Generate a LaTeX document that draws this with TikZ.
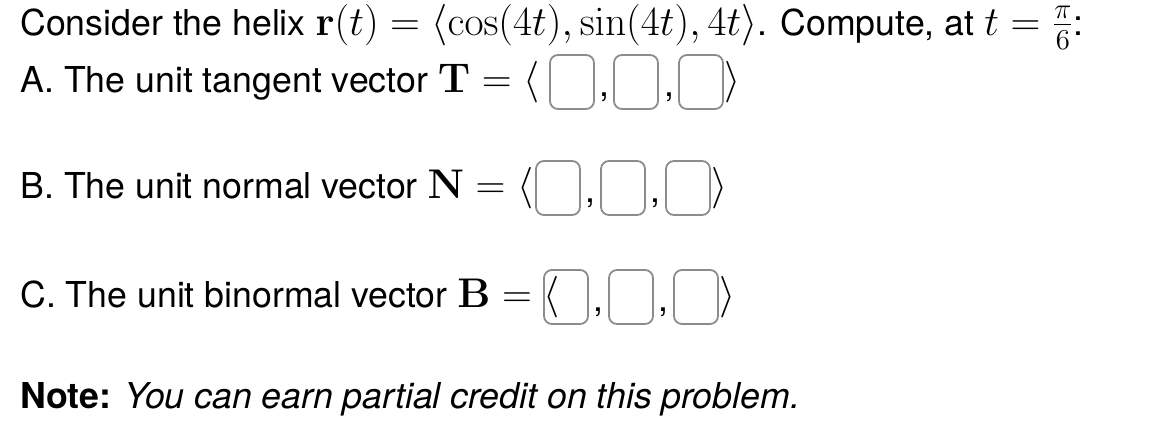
\documentclass[tikz,border=0pt]{standalone}
\usepackage{amsmath}
\usepackage[no-math]{fontspec}
\setmainfont[Scale=0.87]{TeX Gyre Heros}
\begin{document}
\begin{tikzpicture}[x=0.5pt,y=-0.5pt,
  txt/.style={anchor=base west,inner sep=0pt,font=\fontsize{20.5}{24}\selectfont},
  ans/.style={draw=black!45,line width=0.9pt,rounded corners=4pt,minimum width=22pt,minimum height=27pt,inner sep=0pt}]
\useasboundingbox (0,0) rectangle (1170,424);
\node[txt] (l1) at (20,35) {Consider the helix $\mathbf{r}(t)=\langle\cos(4t),\sin(4t),4t\rangle$. Compute, at $t=\frac{\pi}{6}$:};
\node[txt] (la) at (20,92) {A. The unit tangent vector $\mathbf{T}=\langle$};
\node[ans] (a1) at (572,82) {}; \node[txt] (ac1) at (599,96) {,};
\node[ans] (a2) at (636,82) {}; \node[txt] (ac2) at (664,96) {,};
\node[ans] (a3) at (701,82) {}; \node[txt] (ar) at (724,92) {$\rangle$};
\node[txt] (lb) at (20,198) {B. The unit normal vector $\mathbf{N}=\langle$};
\node[ans] (b1) at (558,188) {}; \node[txt] (bc1) at (585,202) {,};
\node[ans] (b2) at (623,188) {}; \node[txt] (bc2) at (650,202) {,};
\node[ans] (b3) at (688,188) {}; \node[txt] (br) at (711,198) {$\rangle$};
\node[txt] (lc) at (20,307) {C. The unit binormal vector $\mathbf{B}=\langle$};
\node[ans] (c1) at (566,297) {}; \node[txt] (cc1) at (593,311) {,};
\node[ans] (c2) at (631,297) {}; \node[txt] (cc2) at (658,311) {,};
\node[ans] (c3) at (696,297) {}; \node[txt] (cr) at (719,307) {$\rangle$};
\node[txt] (note) at (20,408) {\textbf{Note:} \textit{You can earn partial credit on this problem.}};
\end{tikzpicture}
\end{document}
